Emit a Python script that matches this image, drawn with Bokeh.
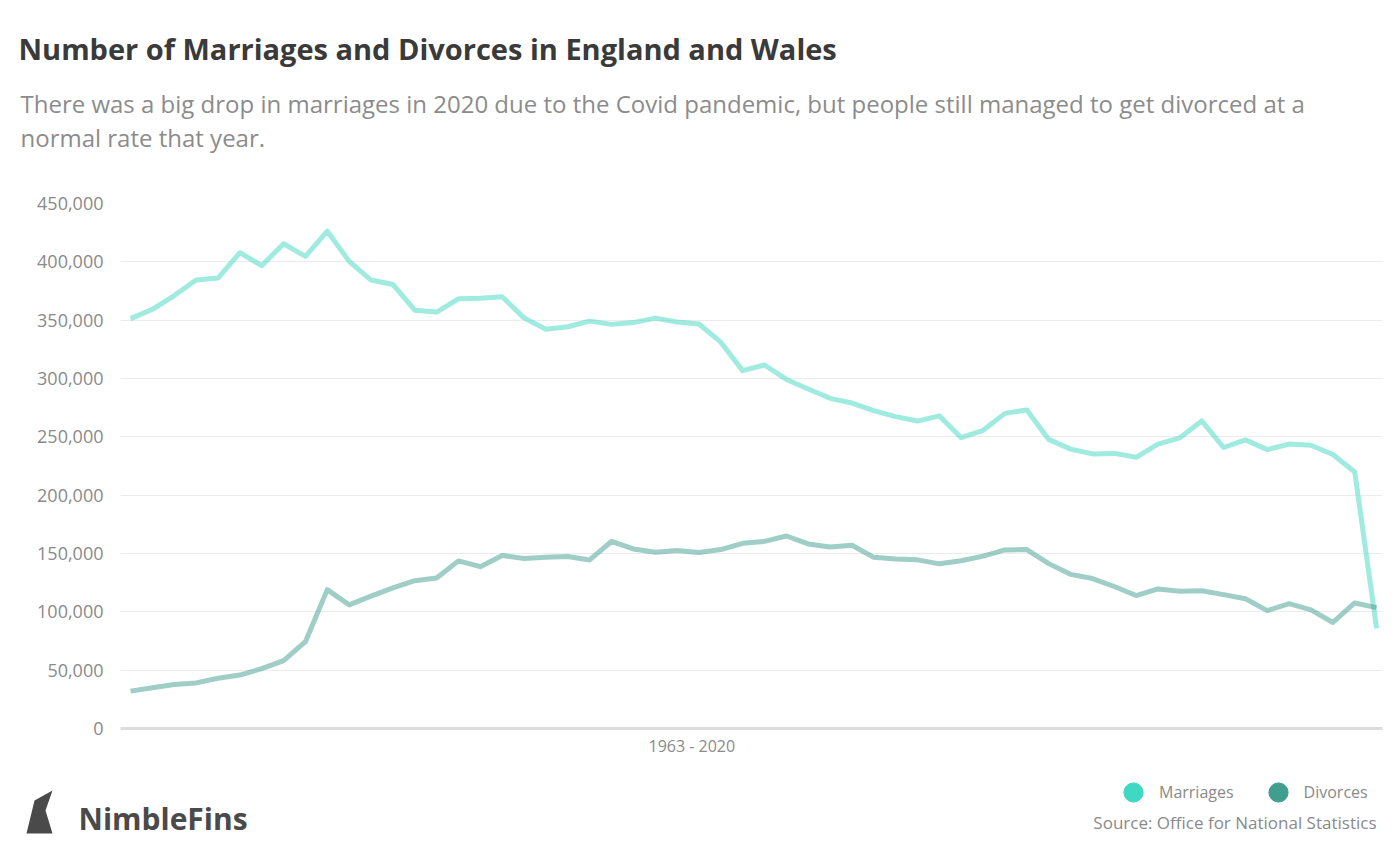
from bokeh.plotting import figure
from bokeh.layouts import column
from bokeh.models import (ColumnDataSource, FixedTicker, NumeralTickFormatter, Label,
                          Legend, LegendItem, Range1d, PolyAnnotation, Title)
from bokeh.embed import file_html
from bokeh.resources import INLINE

years = list(range(1963, 2021))
marriages = [351329, 359307, 371127, 384497, 386052, 407822, 396746, 415487, 404737, 426241,
             400435, 384389, 380620, 358567, 356954, 368258, 368853, 370022, 351973, 342166,
             344334, 349186, 346389, 347924, 351761, 348492, 346697, 331150, 306756, 311564,
             299197, 291069, 283012, 278975, 272536, 267303, 263515, 267961, 249227, 255596,
             270109, 273069, 247805, 239454, 235367, 235794, 232443, 243808, 249133, 263640,
             240854, 247372, 239020, 243792, 242842, 234795, 219850, 85770]
divorces = [32052, 34868, 37785, 39067, 43093, 45794, 51310, 58239, 74437, 119025,
            106003, 113500, 120522, 126694, 129053, 143667, 138706, 148301, 145713, 146698,
            147479, 144501, 160300, 153903, 151007, 152633, 150872, 153386, 158745, 160385,
            165018, 158175, 155499, 157107, 146689, 145214, 144556, 141135, 143818, 147735,
            153065, 153399, 141322, 132140, 128534, 121708, 113949, 119589, 117558, 118140,
            114720, 111169, 101055, 106959, 101669, 90871, 107599, 103592]
y_ticks = [0, 50000, 100000, 150000, 200000, 250000, 300000, 350000, 400000, 450000]
series_names = ["Marriages", "Divorces"]
series_colors = ["#3fd8c2", "#3f9e8e"]

title = "Number of Marriages and Divorces in England and Wales"
subtitle1 = ("There was a big drop in marriages in 2020 due to the Covid pandemic, but people "
             "still managed to get divorced at a")
subtitle2 = "normal rate that year."
x_title = "1963 - 2020"
source_text = "Source: Office for National Statistics"
brand = "NimbleFins"

FONT = "Open Sans"
W = 1396


def blank(height):
    f = figure(width=W, height=height, output_backend="svg", toolbar_location=None,
               x_axis_type=None, y_axis_type=None, x_range=Range1d(0, 1), y_range=Range1d(0, 1),
               min_border=0, min_border_left=0, min_border_right=0,
               min_border_top=0, min_border_bottom=0)
    f.outline_line_color = None
    f.grid.visible = False
    f.frame_align = False
    return f


# ---------- header ----------
header = blank(185)
header.add_layout(Label(x=18, y=137, x_units="screen", y_units="screen", text=title,
                        text_font=FONT, text_font_size="29px", text_font_style="bold",
                        text_color="#3a3a3a", text_baseline="middle"))
header.add_layout(Label(x=20, y=82, x_units="screen", y_units="screen", text=subtitle1,
                        text_font=FONT, text_font_size="24px", text_color="#8c8c8c",
                        text_baseline="middle"))
header.add_layout(Label(x=20, y=48, x_units="screen", y_units="screen", text=subtitle2,
                        text_font=FONT, text_font_size="24px", text_color="#8c8c8c",
                        text_baseline="middle"))

# ---------- main chart ----------
src = ColumnDataSource(dict(year=years, marriages=marriages, divorces=divorces))

p = figure(width=W, height=585, output_backend="svg", toolbar_location=None,
           x_range=Range1d(1962.54, 2020.27), y_range=Range1d(0, 450000),
           min_border_left=120, min_border_right=W - 1382, min_border_top=18,
           min_border_bottom=42)
p.outline_line_color = None
p.frame_align = False

p.yaxis.ticker = FixedTicker(ticks=y_ticks)
p.yaxis.formatter = NumeralTickFormatter(format="0,0")
p.yaxis.axis_line_color = None
p.yaxis.major_tick_line_color = None
p.yaxis.minor_tick_line_color = None
p.yaxis.major_tick_out = 0
p.yaxis.major_label_standoff = 17
p.yaxis.major_label_text_font = FONT
p.yaxis.major_label_text_font_size = "18px"
p.yaxis.major_label_text_color = "#8a8a8a"

p.xaxis.ticker = FixedTicker(ticks=[])
p.xaxis.axis_line_color = "#dddddd"
p.xaxis.axis_line_width = 3
p.xaxis.major_tick_line_color = None
p.xaxis.minor_tick_line_color = None
p.xaxis.major_tick_out = 0
p.xaxis.major_label_standoff = 0

x_label = Title(text=x_title, align="left", offset=528, standoff=8,
                text_font=FONT, text_font_size="16px", text_font_style="normal",
                text_color="#8a8a8a")
p.add_layout(x_label, "below")

p.xgrid.grid_line_color = None
p.ygrid.grid_line_color = "#ececec"
p.ygrid.grid_line_width = 1

r_m = p.line("year", "marriages", source=src, line_color=series_colors[0],
             line_width=5, line_alpha=0.5, line_join="round")
r_d = p.line("year", "divorces", source=src, line_color=series_colors[1],
             line_width=5, line_alpha=0.5, line_join="round")

# ---------- footer: legend, source, brand ----------
footer = blank(90)
proxy = ColumnDataSource(dict(x=[float("nan")], y=[float("nan")]))
lm = footer.scatter("x", "y", source=proxy, size=16, marker="circle",
                    fill_color=series_colors[0], line_color=series_colors[0])
ld = footer.scatter("x", "y", source=proxy, size=16, marker="circle",
                    fill_color=series_colors[1], line_color=series_colors[1])
legend = Legend(items=[LegendItem(label=series_names[0], renderers=[lm]),
                       LegendItem(label=series_names[1], renderers=[ld])],
                orientation="horizontal", location=(1109, 44),
                glyph_width=48, glyph_height=48, label_standoff=2, spacing=20,
                padding=0, margin=0, border_line_color=None,
                background_fill_alpha=0,
                label_text_font=FONT, label_text_font_size="16px",
                label_text_color="#8a8a8a")
footer.add_layout(legend, "center")

footer.add_layout(Label(x=1376, y=38, x_units="screen", y_units="screen", text=source_text,
                        text_font=FONT, text_font_size="17px", text_color="#8a8a8a",
                        text_align="right", text_baseline="middle"))
footer.add_layout(PolyAnnotation(xs=[26, 34, 52, 45, 52], ys=[27, 60, 70, 50, 27],
                                 xs_units="screen", ys_units="screen",
                                 fill_color="#4a4a4a", fill_alpha=1, line_color=None))
footer.add_layout(Label(x=78, y=42, x_units="screen", y_units="screen", text=brand,
                        text_font=FONT, text_font_size="30px", text_font_style="bold",
                        text_color="#4a4a4a", text_baseline="middle"))

layout = column(header, p, footer, spacing=0)
open("out.html", "w").write(file_html(layout, INLINE))
